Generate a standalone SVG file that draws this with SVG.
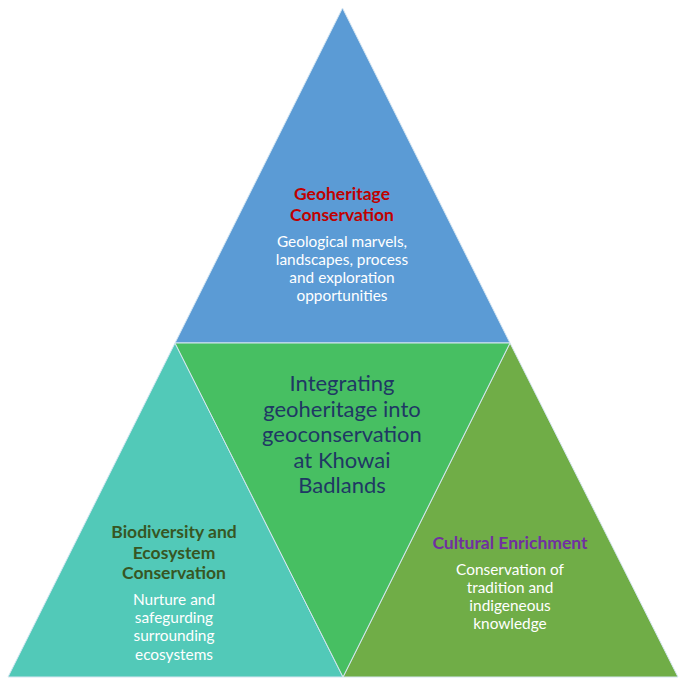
<svg xmlns="http://www.w3.org/2000/svg" width="685" height="684" viewBox="0 0 685 684">
<style>
text{font-family:Lato,"Noto Sans",sans-serif;text-anchor:middle}
polygon{stroke:#d6e6f2;stroke-width:1}
.h{font-size:17.5px;font-weight:700}
.b{font-size:15.4px;fill:#fff}
.c{font-size:22px;fill:#1f3864}
</style>
<rect width="685" height="684" fill="#fff"/>
<g id="top"><polygon points="342.500,8 510,343 175,343" fill="#5b9bd5"/>
<text class="h" fill="#c00000" x="342" y="200">Geoheritage</text><text class="h" fill="#c00000" x="342" y="221">Conservation</text>
<text class="b" x="342" y="247">Geological marvels,</text><text class="b" x="342" y="265">landscapes, process</text><text class="b" x="342" y="283">and exploration</text><text class="b" x="342" y="301">opportunities</text></g>
<g id="left"><polygon points="175,343 343,677 8,677" fill="#52c9b8"/>
<text class="h" fill="#375623" x="174" y="538">Biodiversity and</text><text class="h" fill="#375623" x="174" y="559">Ecosystem</text><text class="h" fill="#375623" x="174" y="579">Conservation</text>
<text class="b" x="174" y="605">Nurture and</text><text class="b" x="174" y="623">safegurding</text><text class="b" x="174" y="641">surrounding</text><text class="b" x="174" y="660">ecosystems</text></g>
<g id="right"><polygon points="510,343 678,677 343,677" fill="#70ad47"/>
<text class="h" fill="#7030a0" x="510" y="549">Cultural Enrichment</text>
<text class="b" x="510" y="575">Conservation of</text><text class="b" x="510" y="593">tradition and</text><text class="b" x="510" y="611">indigeneous</text><text class="b" x="510" y="629">knowledge</text></g>
<g id="center"><polygon points="175,343 510,343 343,677" fill="#47bf62"/>
<text class="c" x="342" y="391">Integrating</text><text class="c" x="342" y="417">geoheritage into</text><text class="c" x="342" y="442">geoconservation</text><text class="c" x="342" y="468">at Khowai</text><text class="c" x="342" y="493">Badlands</text></g>
<g id="connectors"></g>
</svg>
